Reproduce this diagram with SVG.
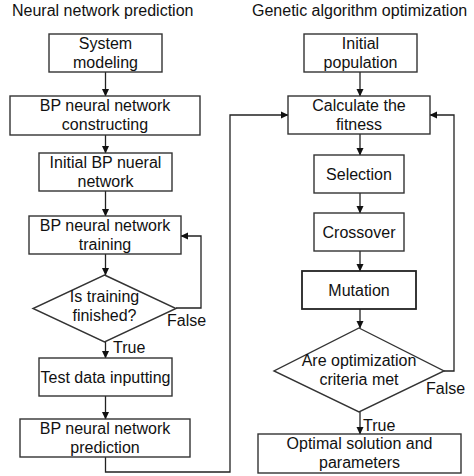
<svg xmlns="http://www.w3.org/2000/svg" width="474" height="476" viewBox="0 0 474 476">
<defs>
<marker id="ah" markerWidth="8" markerHeight="8" refX="7" refY="4" orient="auto" markerUnits="userSpaceOnUse">
<path d="M0,0.5 L7.5,4 L0,7.5 Z" fill="#111"/>
</marker>
</defs>
<style>
text{font-family:"Liberation Sans",Arial,sans-serif;font-size:16px;fill:#111;text-anchor:middle}
.t{text-anchor:start}
.b{fill:#fff;stroke:#333;stroke-width:1.4}
.c{fill:none;stroke:#222;stroke-width:1.3}
.a{marker-end:url(#ah)}
</style>
<rect width="474" height="476" fill="#fff"/>
<text class="t" x="12" y="16">Neural network prediction</text>
<text class="t" x="252" y="16">Genetic algorithm optimization</text>
<g id="connectors">
<line class="c a" x1="105.5" y1="72" x2="105.5" y2="96"/>
<line class="c a" x1="105.5" y1="135" x2="105.5" y2="153"/>
<line class="c a" x1="105.5" y1="191" x2="105.5" y2="216"/>
<line class="c a" x1="105.5" y1="254" x2="105.5" y2="275"/>
<polyline class="c a" points="176,308 201,308 201,236 181,236"/>
<line class="c a" x1="105.5" y1="342" x2="105.5" y2="358"/>
<line class="c a" x1="105.5" y1="396" x2="105.5" y2="419"/>
<polyline class="c a" points="105.5,457 105.5,472 230,472 230,115 288,115"/>
<line class="c a" x1="360" y1="72" x2="360" y2="96"/>
<line class="c a" x1="360" y1="134" x2="360" y2="155"/>
<line class="c a" x1="360" y1="193" x2="360" y2="213"/>
<line class="c a" x1="360" y1="251" x2="360" y2="271"/>
<line class="c a" x1="360" y1="309" x2="360" y2="328"/>
<polyline class="c a" points="444,371 454,371 454,115 430,115"/>
<line class="c a" x1="360" y1="412" x2="360" y2="434"/>
<text class="t" x="113" y="353">True</text>
<text class="t" x="167" y="326">False</text>
<text class="t" x="363" y="431">True</text>
<text class="t" x="426" y="394">False</text>
</g>
<g id="n1"><rect class="b" x="49" y="34" width="113" height="38"/><text x="105.5" y="48.5">System</text><text x="105.5" y="67.5">modeling</text></g>
<g id="n2"><rect class="b" x="10" y="96" width="190" height="39"/><text x="105" y="110.5">BP neural network</text><text x="105" y="129.5">constructing</text></g>
<g id="n3"><rect class="b" x="39" y="153" width="133" height="38"/><text x="105.5" y="167.5">Initial BP nueral</text><text x="105.5" y="186.5">network</text></g>
<g id="n4"><rect class="b" x="29" y="216" width="152" height="38"/><text x="105" y="230.5">BP neural network</text><text x="105" y="249.5">training</text></g>
<g id="n5"><polygon class="b" points="104.5,275 176,308.5 104.5,342 33,308.5"/><text x="104.5" y="302">Is training</text><text x="104.5" y="321">finished?</text></g>
<g id="n6"><rect class="b" x="39" y="358" width="133" height="38"/><text x="105.5" y="382.5">Test data inputting</text></g>
<g id="n7"><rect class="b" x="20" y="419" width="170" height="38"/><text x="105" y="433.5">BP neural network</text><text x="105" y="452.5">prediction</text></g>
<g id="m1"><rect class="b" x="304" y="34" width="113" height="38"/><text x="360.5" y="48.5">Initial</text><text x="360.5" y="67.5">population</text></g>
<g id="m2"><rect class="b" x="288" y="96" width="142" height="38"/><text x="359" y="110.5">Calculate the</text><text x="359" y="129.5">fitness</text></g>
<g id="m3"><rect class="b" x="314" y="155" width="90" height="38"/><text x="359" y="179.5">Selection</text></g>
<g id="m4"><rect class="b" x="314" y="213" width="90" height="38"/><text x="359" y="237.5">Crossover</text></g>
<g id="m5"><rect class="b" x="302" y="271" width="114" height="38" style="stroke:#222;stroke-width:1.8"/><text x="359" y="295.5">Mutation</text></g>
<g id="m6"><polygon class="b" points="359,328 444,371 359,412 274,371"/><text x="359" y="366">Are optimization</text><text x="359" y="385">criteria met</text></g>
<g id="m7"><rect class="b" x="258" y="434" width="203" height="39"/><text x="359.5" y="448.5">Optimal solution and</text><text x="359.5" y="467.5">parameters</text></g>
</svg>
